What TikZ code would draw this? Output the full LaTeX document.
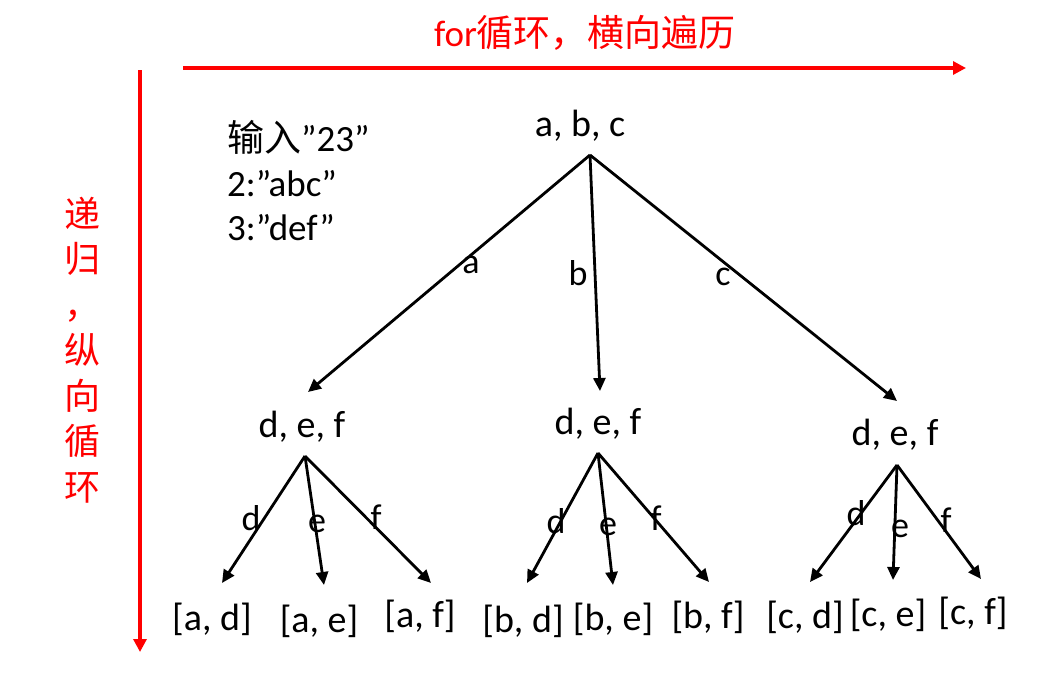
\documentclass[tikz,border=0pt]{standalone}
\usepackage{fontspec}
\setmainfont{Carlito}
\newfontfamily\cjk{Noto Sans CJK SC}
\usetikzlibrary{arrows.meta}
\definecolor{pptred}{RGB}{255,0,0}
\tikzset{
  lbl/.style={font=\fontsize{38}{44}\selectfont, inner sep=0pt, anchor=base},
  elbl/.style={font=\fontsize{36}{44}\selectfont, inner sep=0pt, anchor=base},
  info/.style={font=\fontsize{37}{44}\selectfont, inner sep=0pt, anchor=base west},
  edge/.style={draw=black, line width=2.8pt, -{Triangle[length=13pt,width=12pt]}},
  redarrow/.style={draw=pptred, line width=3.2pt, -{Triangle[length=13pt,width=13pt]}},
  redtext/.style={text=pptred, inner sep=0pt}
}
\begin{document}
\begin{tikzpicture}[x=1pt,y=-1pt]
\useasboundingbox (0,0) rectangle (1047,696);
\fill[white] (0,0) rectangle (1047,696);

% red axes
\coordinate (hs) at (183,68);
\coordinate (he) at (966,68);
\coordinate (vs) at (140,70);
\coordinate (ve) at (140,652);
\draw[redarrow] (hs) -- (he);
\draw[redarrow] (vs) -- (ve);

\node[redtext, anchor=base, font=\fontsize{37}{44}\selectfont] (htitle) at (585,46) {for{\cjk 循环，横向遍历}};
\node[redtext, anchor=center, align=center, font=\cjk\fontsize{36}{45.5}\selectfont] (vtitle) at (82,350) {递\\归\\，\\纵\\向\\循\\环};

% info
\node[info] (i1) at (227,151) {{\cjk 输入}”23”};
\node[info] (i2) at (227,196) {2:”abc”};
\node[info] (i3) at (227,240) {3:”def”};

% tree nodes
\node[lbl] (root) at (580,136) {a, b, c};
\node[lbl] (n1) at (302,437) {d, e, f};
\node[lbl] (n2) at (598,434) {d, e, f};
\node[lbl] (n3) at (895,445) {d, e, f};

\node[lbl] (l1) at (212,630) {[a, d]};
\node[lbl] (l2) at (319,632) {[a, e]};
\node[lbl] (l3) at (420,627) {[a, f]};
\node[lbl] (l4) at (523,632) {[b, d]};
\node[lbl] (l5) at (613,630) {[b, e]};
\node[lbl] (l6) at (708,628) {[b, f]};
\node[lbl] (l7) at (805,628) {[c, d]};
\node[lbl] (l8) at (888,626) {[c, e]};
\node[lbl] (l9) at (973,624) {[c, f]};

% edges
\draw[edge] ([shift={(10,19)}]root.base) -- ([shift={(6,-45)}]n1.base);
\draw[edge] ([shift={(10,19)}]root.base) -- ([shift={(2,-43)}]n2.base);
\draw[edge] ([shift={(10,19)}]root.base) -- ([shift={(2,-44)}]n3.base);

\draw[edge] ([shift={(3,19)}]n1.base) -- ([shift={(10,-47)}]l1.base);
\draw[edge] ([shift={(3,19)}]n1.base) -- ([shift={(5,-47)}]l2.base);
\draw[edge] ([shift={(3,19)}]n1.base) -- ([shift={(11,-44)}]l3.base);

\draw[edge] ([shift={(0,19)}]n2.base) -- ([shift={(4,-49)}]l4.base);
\draw[edge] ([shift={(0,19)}]n2.base) -- ([shift={(0,-45)}]l5.base);
\draw[edge] ([shift={(0,19)}]n2.base) -- ([shift={(1,-46)}]l6.base);

\draw[edge] ([shift={(2,20)}]n3.base) -- ([shift={(5,-46)}]l7.base);
\draw[edge] ([shift={(2,20)}]n3.base) -- ([shift={(5,-46)}]l8.base);
\draw[edge] ([shift={(2,20)}]n3.base) -- ([shift={(8,-45)}]l9.base);

% edge labels
\node[elbl] (ea) at (471,273) {a};
\node[elbl] (eb) at (578,285) {b};
\node[elbl] (ec) at (723,285) {c};

\node[elbl] (d1) at (251,530) {d};
\node[elbl] (e1) at (317,532) {e};
\node[elbl] (f1) at (376,529) {f};
\node[elbl] (d2) at (556,533) {d};
\node[elbl] (e2) at (608,535) {e};
\node[elbl] (f2) at (656,530) {f};
\node[elbl] (d3) at (856,525) {d};
\node[elbl] (e3) at (900,537) {e};
\node[elbl] (f3) at (946,532) {f};
\end{tikzpicture}
\end{document}
